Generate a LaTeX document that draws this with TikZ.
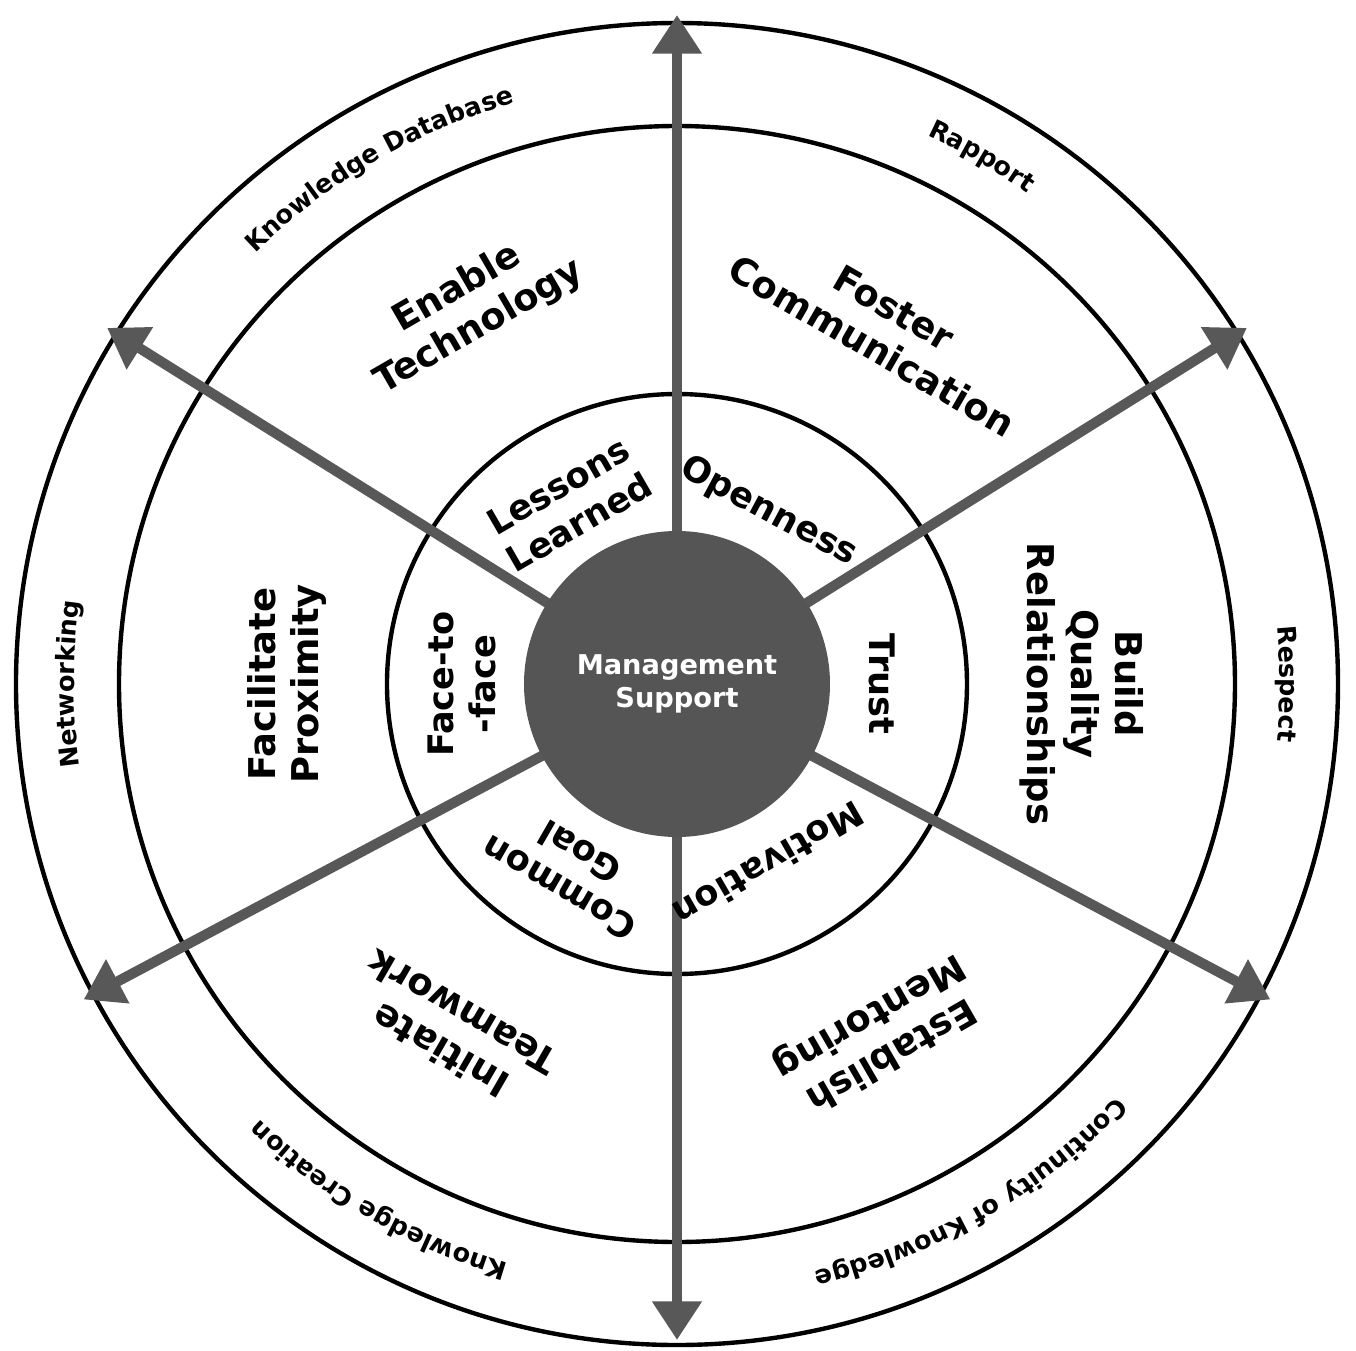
\documentclass[tikz,border=0pt]{standalone}
\usepackage{fontspec}
\setmainfont{DejaVu Sans}
\usetikzlibrary{arrows.meta,decorations.text}
\definecolor{arrgray}{HTML}{585858}
\definecolor{hubgray}{HTML}{555555}
\tikzset{
  ring/.style={draw=black,line width=2.5pt},
  spoke/.style={draw=arrgray,line width=5.8pt,-{Triangle[length=22pt,width=27pt]}},
  midtxt/.style={font=\fontsize{21}{25}\selectfont\bfseries,align=center},
  intxt/.style={font=\fontsize{20}{24}\selectfont\bfseries,align=center},
  arclabel/.style={decorate,decoration={text along path,text align=center,text={|\fontsize{14.5}{17}\selectfont\bfseries|#1}}}
}
\begin{document}
\begin{tikzpicture}[x=0.02cm,y=0.02cm]
\useasboundingbox (-677,-666) rectangle (679,684);
\draw[ring] (0,0) circle[radius=661];
\draw[ring] (0,0) circle[radius=558];
\draw[ring] (0,0) circle[radius=290];
\coordinate (c) at (0,0);
\coordinate (top) at (0,669);
\coordinate (bot) at (0,-656);
\draw[spoke,{Triangle[length=22pt,width=27pt]}-{Triangle[length=22pt,width=27pt]}] (bot) -- (top);
\foreach \a/\n in {32/ur,148/ul,208/ll,-28/lr}{
  \coordinate (s\n) at (\a:150);
  \coordinate (e\n) at (\a:672);
  \draw[spoke] (s\n) -- (e\n);
}
\node[circle,fill=hubgray,minimum size=306*0.02cm,inner sep=0pt,text=white,
  font=\fontsize{15.5}{19}\selectfont\bfseries,align=center] (hub) at (0,0) {Management\\Support};
% middle ring
\node[midtxt,rotate=30] (t1) at (119:430) {Enable\\Technology};
\node[midtxt,rotate=-30] (t2) at (60:412) {Foster\\Communication};
\node[midtxt,rotate=-90] (t3) at (0:405) {Build\\Quality\\Relationships};
\node[midtxt,rotate=-150] (t4) at (-60:405) {Establish\\Mentoring};
\node[midtxt,rotate=150] (t5) at (237:415) {Initiate\\Teamwork};
\node[midtxt,rotate=90] (t6) at (180:390) {Facilitate\\Proximity};
% inner ring
\node[intxt,rotate=30] (i1) at (121:210) {Lessons\\Learned};
\node[intxt,rotate=-28] (i2) at (62:195) {Openness};
\node[intxt,rotate=-90] (i3) at (0:205) {Trust};
\node[intxt,rotate=-150] (i4) at (-63:202) {Motivation};
\node[intxt,rotate=150] (i5) at (240:215) {Common\\Goal};
\node[intxt,rotate=90] (i6) at (180:215) {Face-to\\-face};
% outer ring
\path[arclabel={Knowledge Database}] (160:603) arc[start angle=160,end angle=80,radius=603];
\path[arclabel={Rapport}] (100:603) arc[start angle=100,end angle=20,radius=603];
\path[arclabel={Respect}] (40:603) arc[start angle=40,end angle=-40,radius=603];
\path[arclabel={Continuity of Knowledge}] (-15:603) arc[start angle=-15,end angle=-105,radius=603];
\path[arclabel={Knowledge Creation}] (-80:603) arc[start angle=-80,end angle=-160,radius=603];
\path[arclabel={Networking}] (220:603) arc[start angle=220,end angle=140,radius=603];
\end{tikzpicture}
\end{document}
